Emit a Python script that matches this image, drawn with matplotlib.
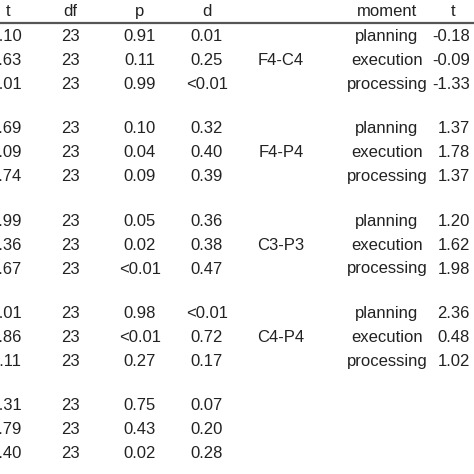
import matplotlib.pyplot as plt

left_t = ["-0.10", "1.63", "-0.01", "1.69", "2.09", "1.74", "1.99", "2.36", "3.67",
          "-0.01", "2.86", "1.11", "-0.31", "0.79", "2.40"]
left_df = ["23"] * 15
left_p = ["0.91", "0.11", "0.99", "0.10", "0.04", "0.09", "0.05", "0.02", "<0.01",
          "0.98", "<0.01", "0.27", "0.75", "0.43", "0.02"]
left_d = ["0.01", "0.25", "<0.01", "0.32", "0.40", "0.39", "0.36", "0.38", "0.47",
          "<0.01", "0.72", "0.17", "0.07", "0.20", "0.28"]

pairs = ["F4-C4", "F4-P4", "C3-P3", "C4-P4"]
moments = ["planning", "execution", "processing"]
right_t = ["-0.18", "-0.09", "-1.33", "1.37", "1.78", "1.37", "1.20", "1.62", "1.98",
           "2.36", "0.48", "1.02"]

fig = plt.figure(figsize=(4.74, 4.74), dpi=100)
ax = fig.add_axes([0, 0, 1, 1])
ax.set_xlim(0, 474)
ax.set_ylim(474, 0)
ax.axis("off")

kw = dict(fontsize=12, color="#222222", family="Liberation Sans", va="center")

# header
ax.text(8, 11, "t", ha="center", **kw)
ax.text(70, 11, "df", ha="center", **kw)
ax.text(140, 11, "p", ha="center", **kw)
ax.text(207, 11, "d", ha="center", **kw)
ax.text(387, 11, "moment", ha="center", **kw)
ax.text(453, 11, "t", ha="center", **kw)
ax.plot([0, 474], [23, 23], color="#555555", lw=1.6)

def row_y(i):
    return 36 + (i // 3) * 92.5 + (i % 3) * 24

# left t column is cut off at the image edge, as in the source
for i in range(15):
    y = row_y(i)
    ax.text(22, y, left_t[i], ha="right", **kw)
    ax.text(70, y, left_df[i], ha="center", **kw)
    ax.text(140, y, left_p[i], ha="center", **kw)
    ax.text(207, y, left_d[i], ha="center", **kw)

for i in range(12):
    y = row_y(i)
    ax.text(387, y, moments[i % 3], ha="center", **kw)
    ax.text(470, y, right_t[i], ha="right", **kw)
    if i % 3 == 1:
        ax.text(281, y, pairs[i // 3], ha="center", **kw)

fig.savefig("out.png", dpi=100, facecolor="white")
